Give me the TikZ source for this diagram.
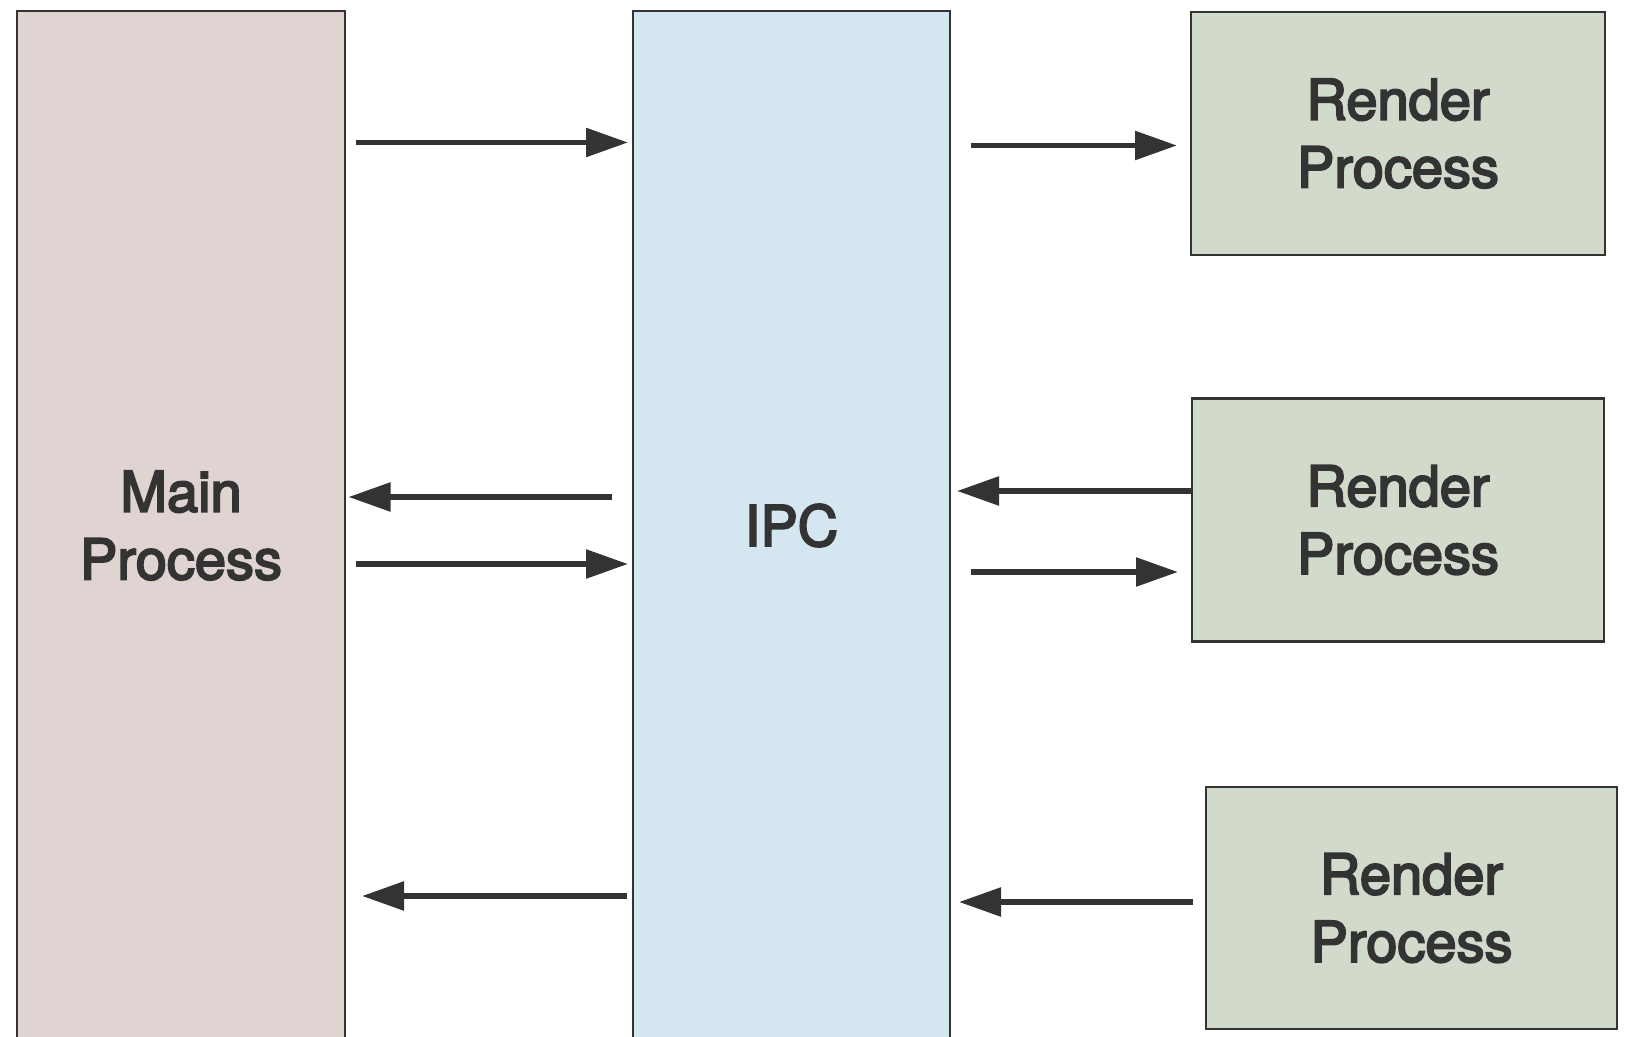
\documentclass[tikz,border=0pt]{standalone}
\usepackage{fontspec}
\setmainfont{TeX Gyre Heros}
\newfontfamily\labelfont{TeX Gyre Heros}[FakeBold=3.5]
\usetikzlibrary{arrows.meta,calc}
\definecolor{mainfill}{HTML}{E0D4D2}
\definecolor{ipcfill}{HTML}{D4E6F0}
\definecolor{rendfill}{HTML}{D1DACB}
\definecolor{ink}{HTML}{333333}
\begin{document}
\begin{tikzpicture}[x=0.5pt,y=-0.5pt,
  box/.style={draw=ink,line width=1.3pt,rectangle,inner sep=0pt,outer sep=0pt,
    align=center,text=ink,font=\labelfont\fontsize{28pt}{33.8pt}\selectfont},
  arr/.style={draw=ink,line width=2.8pt,-{Triangle[length=21pt,width=14pt]}}]
\path[use as bounding box] (0,0) rectangle (1631,1037);
\node[box,fill=mainfill,minimum width=164pt,minimum height=514.5pt] (main) at (181,525.5) {Main\\Process};
\node[box,fill=ipcfill,minimum width=158.5pt,minimum height=514.5pt] (ipc) at (791.5,525.5) {IPC};
\node[box,fill=rendfill,minimum width=207pt,minimum height=121.5pt] (r1) at (1398,133.5) {Render\\Process};
\node[box,fill=rendfill,minimum width=206pt,minimum height=121.5pt] (r2) at (1398,520) {Render\\Process};
\node[box,fill=rendfill,minimum width=205.5pt,minimum height=121pt] (r3) at (1411.5,908) {Render\\Process};
% connectors
\draw[arr] ($(main.east |- 0,142.5)+(11,0)$) -- ($(ipc.west |- 0,142.5)+(-5,0)$);
\draw[arr] ($(ipc.east |- 0,145.5)+(21,0)$) -- ($(r1.west |- 0,145.5)+(-14,0)$);
\draw[arr] ($(ipc.west |- 0,497)+(-21,0)$) -- ($(main.east |- 0,497)+(3.5,0)$);
\draw[arr] ($(main.east |- 0,564)+(11,0)$) -- ($(ipc.west |- 0,564)+(-5,0)$);
\draw[arr] (r2.west |- 0,491) -- ($(ipc.east |- 0,491)+(7,0)$);
\draw[arr] ($(ipc.east |- 0,572)+(21,0)$) -- ($(r2.west |- 0,572)+(-14,0)$);
\draw[arr] ($(ipc.west |- 0,896)+(-6,0)$) -- ($(main.east |- 0,896)+(17,0)$);
\draw[arr] ($(r3.west |- 0,902)+(-13,0)$) -- ($(ipc.east |- 0,902)+(9,0)$);
\end{tikzpicture}
\end{document}
